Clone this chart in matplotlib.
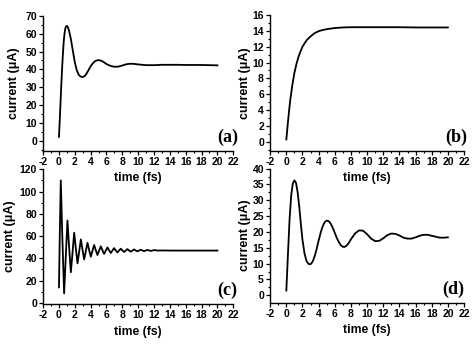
import matplotlib
matplotlib.use("Agg")
import matplotlib.pyplot as plt
from matplotlib.ticker import MultipleLocator, AutoMinorLocator

plt.rcParams["axes.unicode_minus"] = False

# (a) damped oscillation settling near 42.5 uA
a_time = [0, 0.1, 0.2, 0.3, 0.4, 0.5, 0.6, 0.7, 0.8, 0.9, 1.0, 1.1, 1.25, 1.5, 1.75,
          2.0, 2.25, 2.5, 2.75, 3.0, 3.25, 3.5, 3.75, 4.0, 4.25, 4.5, 4.75, 5.0, 5.25,
          5.5, 5.75, 6.0, 6.5, 7.0, 7.5, 8.0, 8.5, 9.0, 9.5, 10, 11, 12, 13, 14, 15,
          16, 17, 18, 19, 20]
a_current = [2.5, 12, 22, 32, 41, 49, 55.5, 60, 62.8, 64, 64.3, 63.8, 62, 57, 50.5,
             44, 39.5, 37, 36, 35.8, 36.3, 37.8, 39.8, 41.8, 43.3, 44.4, 45, 45.2, 45,
             44.5, 43.8, 43, 42, 41.5, 41.6, 42.2, 42.9, 43.2, 43.1, 42.8, 42.4, 42.4,
             42.6, 42.6, 42.6, 42.5, 42.5, 42.5, 42.4, 42.3]

# (b) monotonic rise to ~14.4 uA
b_time = [0, 0.1, 0.2, 0.3, 0.4, 0.5, 0.75, 1.0, 1.25, 1.5, 1.75, 2.0, 2.5, 3.0, 3.5,
          4.0, 4.5, 5.0, 6.0, 7.0, 8.0, 10, 12, 14, 16, 18, 20]
b_current = [0.3, 1.4, 2.5, 3.5, 4.5, 5.4, 7.2, 8.7, 9.8, 10.7, 11.4, 12.0, 12.8,
             13.3, 13.7, 13.95, 14.1, 14.2, 14.35, 14.42, 14.45, 14.45, 14.45, 14.45,
             14.42, 14.42, 14.42]

# (c) fast oscillation settling near 47 uA
c_time = [0.0, 0.1, 0.23, 0.42, 0.65, 0.85, 1.07, 1.28, 1.5, 1.71, 1.92, 2.13, 2.34,
          2.55, 2.76, 2.97, 3.18, 3.39, 3.6, 3.81, 4.02, 4.23, 4.44, 4.65, 4.86, 5.07,
          5.28, 5.49, 5.7, 5.91, 6.12, 6.33, 6.54, 6.75, 6.96, 7.17, 7.38, 7.59, 7.8,
          8.01, 8.22, 8.43, 8.64, 8.85, 9.06, 9.27, 9.48, 9.69, 9.9, 10.11, 10.32,
          10.53, 10.74, 10.95, 11.16, 11.37, 11.58, 11.79, 12.0, 12.5, 13, 14, 16, 18, 20]
c_current = [14, 60, 110, 60, 8.5, 40, 74, 50, 27.5, 45, 63, 49, 35.5, 46, 57, 48, 39,
             46.5, 54, 47.5, 41.5, 46.8, 52, 47.3, 43, 47, 50.8, 47.3, 44, 47, 49.8,
             47.2, 44.8, 47, 49.2, 47.1, 45.3, 47, 48.7, 47.1, 45.7, 47, 48.3, 47.1, 46,
             47, 48, 47.1, 46.3, 47, 47.8, 47.1, 46.5, 47, 47.6, 47.1, 46.7, 47, 47.4,
             47, 47.1, 47, 47, 47, 47]

# (d) slow damped oscillation settling near 18.3 uA
d_time = [0, 0.2, 0.4, 0.6, 0.8, 1.0, 1.2, 1.4, 1.6, 1.8, 2.0, 2.25, 2.5, 2.75, 3.0,
          3.25, 3.5, 3.75, 4.0, 4.25, 4.5, 4.75, 5.0, 5.25, 5.5, 5.75, 6.0, 6.25, 6.5,
          6.75, 7.0, 7.25, 7.5, 7.75, 8.0, 8.5, 9.0, 9.5, 10.0, 10.5, 11.0, 11.5, 12.0,
          12.5, 13.0, 13.5, 14.0, 14.5, 15.0, 15.5, 16.0, 16.5, 17.0, 17.5, 18.0, 18.5,
          19.0, 19.5, 20.0]
d_current = [1.5, 13, 24, 31.5, 35.3, 36.3, 35.5, 32.5, 28, 22.5, 17.5, 13.2, 10.8,
             9.9, 9.8, 10.6, 12.3, 14.6, 17.3, 19.8, 21.8, 23.1, 23.6, 23.4, 22.6, 21.3,
             19.7, 18.1, 16.8, 15.8, 15.3, 15.3, 15.8, 16.6, 17.7, 19.5, 20.5, 20.4,
             19.3, 17.9, 17.1, 17.2, 18.0, 19.0, 19.5, 19.4, 18.9, 18.2, 17.9, 17.9,
             18.3, 18.8, 19.1, 19.1, 18.8, 18.5, 18.2, 18.2, 18.3]

panels = [
    ("(a)", a_time, a_current, (-5.2, 70), 10, [0.091, 0.566, 0.401, 0.389], -0.12, 1.026),
    ("(b)", b_time, b_current, (-1.1, 16), 2, [0.570, 0.566, 0.409, 0.391], -0.10, 1.015),
    ("(c)", c_time, c_current, (-1, 120), 20, [0.091, 0.124, 0.401, 0.388], -0.142, 1.02),
    ("(d)", d_time, d_current, (-2.3, 40), 5, [0.570, 0.128, 0.409, 0.386], -0.097, 1.0),
]

sans = ["Liberation Sans", "DejaVu Sans"]
serif = ["Liberation Serif", "DejaVu Serif"]

fig = plt.figure(figsize=(4.74, 3.47), dpi=100)

for tag, t, cur, ylim, ystep, rect, ylab_x, tag_x in panels:
    ax = fig.add_axes(rect)
    ax.patch.set_visible(False)
    ax.plot(t, cur, color="black", lw=1.3, solid_joinstyle="round")
    ax.set_xlim(-2, 22)
    ax.set_ylim(*ylim)
    ax.xaxis.set_major_locator(MultipleLocator(2))
    ax.xaxis.set_minor_locator(AutoMinorLocator(2))
    ax.yaxis.set_major_locator(MultipleLocator(ystep))
    ax.yaxis.set_minor_locator(AutoMinorLocator(2))
    for side in ("top", "right"):
        ax.spines[side].set_visible(False)
    for side in ("left", "bottom"):
        ax.spines[side].set_linewidth(1.0)
    ax.tick_params(which="major", direction="out", length=3, width=0.9, pad=1.5)
    ax.tick_params(which="minor", direction="out", length=1.6, width=0.8)
    for lab in ax.get_xticklabels() + ax.get_yticklabels():
        lab.set_family(sans)
        lab.set_fontweight("bold")
        lab.set_fontsize(7.5)
    ax.set_xlabel("time (fs)", family=sans, fontweight="bold", fontsize=8.8)
    ax.set_ylabel("current (μA)", family=sans, fontweight="bold", fontsize=9)
    ax.xaxis.set_label_coords(0.5, -0.16)
    ax.yaxis.set_label_coords(ylab_x, 0.5)
    ax.text(tag_x, 0.10, tag, transform=ax.transAxes, ha="right", va="center",
            family=serif, fontweight="bold", fontsize=13)

fig.savefig("out.png", dpi=100)
